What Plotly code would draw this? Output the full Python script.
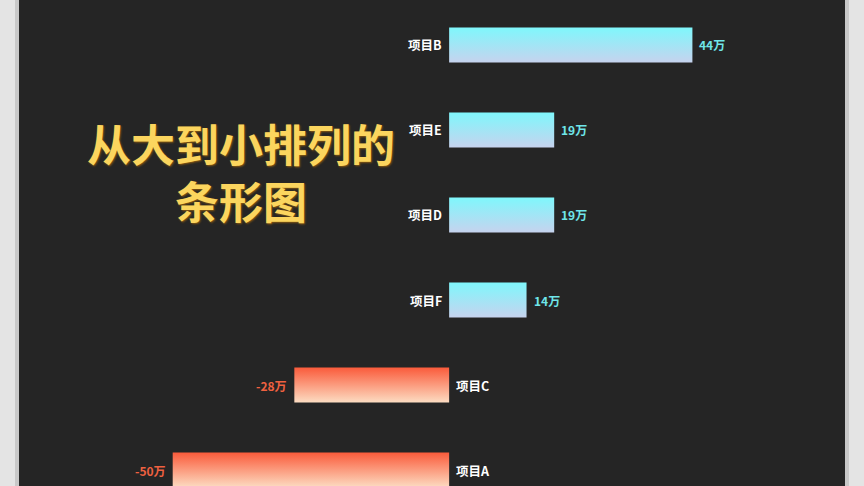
import plotly.graph_objects as go

# data, top to bottom as drawn
items = ["项目B", "项目E", "项目D", "项目F", "项目C", "项目A"]
values = [44, 19, 19, 14, -28, -50]
unit = "万"
title_lines = ["从大到小排列的", "条形图"]

BG = "#252525"
POS_TOP, POS_BOTTOM, POS_TEXT = "#7ff7fc", "#c6d3ee", "#6fe6ea"
NEG_TOP, NEG_BOTTOM, NEG_TEXT = "#fa5b3b", "#fcdcc2", "#ef6140"
FONT = "Noto Sans CJK SC"

half = 0.205
n = len(items)

fig = go.Figure()
annotations = []

for i, (name, v) in enumerate(zip(items, values)):
    y = n - 1 - i
    top, bottom = (POS_TOP, POS_BOTTOM) if v >= 0 else (NEG_TOP, NEG_BOTTOM)
    fig.add_trace(go.Scatter(
        x=[0, v, v, 0, 0],
        y=[y - half, y - half, y + half, y + half, y - half],
        mode="lines",
        line=dict(width=0),
        fill="toself",
        fillgradient=dict(type="vertical",
                          colorscale=[[0, bottom], [1, top]]),
        hoverinfo="skip",
        showlegend=False,
    ))
    pos = v >= 0
    # category label on the other side of zero
    annotations.append(dict(
        x=0, y=y, xref="x", yref="y", text=f"<b>{name}</b>",
        showarrow=False, xanchor="right" if pos else "left",
        xshift=-5 if pos else 5,
        font=dict(family=FONT, size=12.5, color="#ffffff"),
    ))
    # value label at bar end
    annotations.append(dict(
        x=v, y=y, xref="x", yref="y", text=f"<b>{v}{unit}</b>",
        showarrow=False, xanchor="left" if pos else "right",
        xshift=5 if pos else -5,
        font=dict(family=FONT, size=12, color=POS_TEXT if pos else NEG_TEXT),
    ))

# big title on the left, one annotation per line (pixel guesses)
for line, py in zip(title_lines, [143, 200]):
    annotations.append(dict(
        x=(241 - 19) / 826, y=1 - py / 486, xref="paper", yref="paper",
        text=line, showarrow=False, xanchor="center", yanchor="middle",
        font=dict(family=FONT, size=44, color="#fbd55e", weight="bold",
                  shadow="1px 1px 2px #8a5a10"),
    ))

# light page edges either side of the dark panel
edge_shapes = []
for x0, x1, col in [(-19, -4, "#e4e4e4"), (-4, 0, "#c8c8c8"),
                    (826, 830, "#c8c8c8"), (830, 845, "#e4e4e4")]:
    edge_shapes.append(dict(type="rect", xref="paper", yref="paper",
                            x0=x0 / 826, x1=x1 / 826, y0=0, y1=1,
                            line=dict(width=0), fillcolor=col, layer="below"))

fig.update_layout(
    width=864, height=486,
    margin=dict(l=19, r=19, t=0, b=0),
    paper_bgcolor="#f0f0f0",
    plot_bgcolor=BG,
    xaxis=dict(range=[-77.8, 71.6], visible=False, fixedrange=True),
    yaxis=dict(range=[-0.188, 5.529], visible=False, fixedrange=True),
    annotations=annotations,
    shapes=edge_shapes,
    showlegend=False,
)

fig.write_html("out.html", config={"displayModeBar": False},
               post_script="document.body.style.margin='0';")
